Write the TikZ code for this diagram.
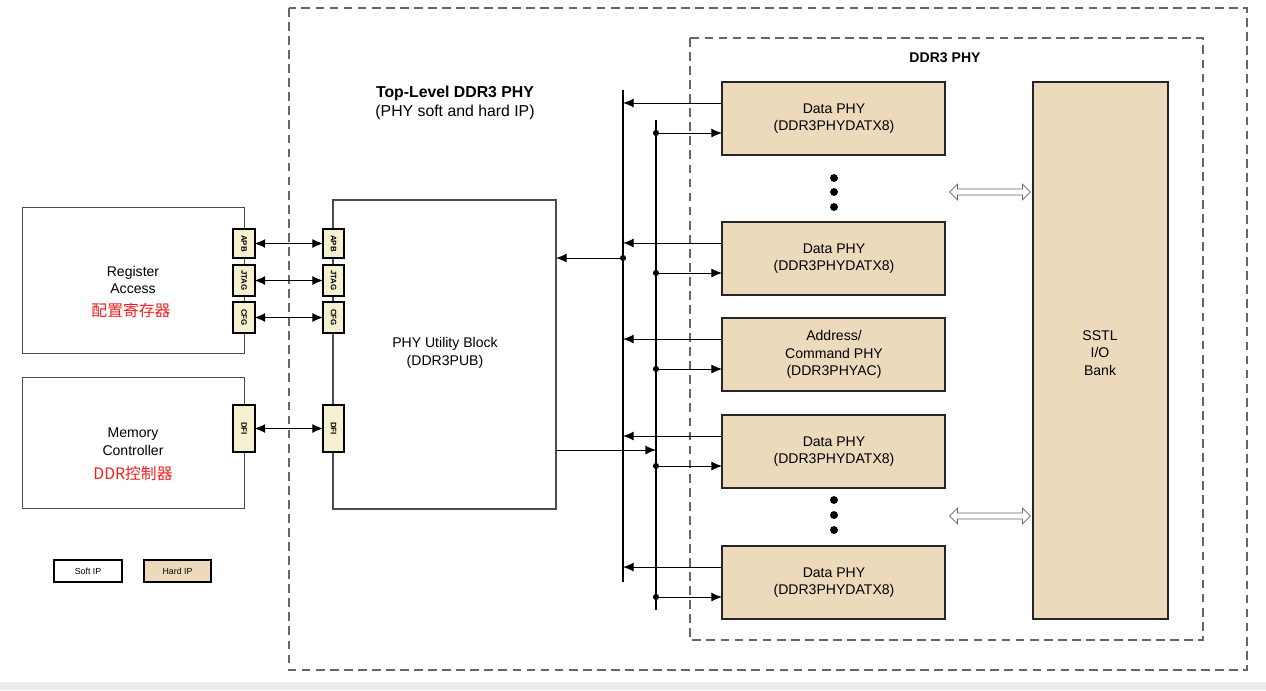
\documentclass[tikz,border=0pt]{standalone}
\usepackage{fontspec}
\setmainfont{Liberation Sans}
\newfontfamily\cjk{Noto Sans CJK SC}
\usetikzlibrary{shapes.arrows,arrows.meta}
\definecolor{hard}{HTML}{EDD9BC}
\definecolor{port}{HTML}{F5F0CF}
\definecolor{cn}{HTML}{F02020}
\begin{document}
\begin{tikzpicture}[x=0.02cm,y=-0.02cm,
  txt/.style={font=\fontsize{7.5}{9}\selectfont,align=center},
  soft/.style={draw=black!70,line width=0.5pt,fill=white},
  hardb/.style={draw=black!85,line width=0.9pt,fill=hard},
  portb/.style={draw=black,line width=0.6pt,fill=port},
  ptxt/.style={font=\fontsize{4.5}{5}\selectfont\bfseries,rotate=-90},
  dsh/.style={draw=black!60,dash pattern=on 5pt off 3pt,line width=0.6pt},
  bus/.style={line width=1.5pt},
  arr/.style={-{Latex[length=6pt,width=5pt]},line width=0.5pt},
  barr/.style={{Latex[length=6pt,width=5pt]}-{Latex[length=6pt,width=5pt]},line width=0.5pt},
  dot/.style={circle,fill=black,inner sep=0pt,minimum size=3.5pt}]
\useasboundingbox (0,0) rectangle (1266,690);
\fill[black!8] (0,682) rectangle (1266,690);
\draw[dsh] (289,8) rectangle (1247,670);
\draw[dsh] (690,38) rectangle (1203,640);
\node[font=\fontsize{8}{9}\selectfont\bfseries] (dtitle) at (945,58) {DDR3 PHY};
\node[font=\fontsize{9}{11}\selectfont,align=center] (ttl) at (455,103) {\textbf{Top-Level DDR3 PHY}\\(PHY soft and hard IP)};
% left boxes
\draw[soft] (22,207) rectangle (244,353);
\node[txt,font=\fontsize{8}{10}\selectfont] (ra) at (133,280) {Register\\Access};
\node[font=\fontsize{9}{10}\selectfont\cjk,text=cn] (racn) at (131,310) {配置寄存器};
\draw[soft] (22,377) rectangle (244,508);
\node[txt,font=\fontsize{8}{10}\selectfont] (mc) at (133,442) {Memory\\Controller};
\node[font=\fontsize{9}{10}\selectfont\cjk,text=cn] (mccn) at (133,473) {DDR控制器};
% PUB
\draw[soft,line width=0.8pt] (333,200) rectangle (556,509);
\node[txt,font=\fontsize{8}{10}\selectfont] (pub) at (445,353) {PHY Utility Block\\(DDR3PUB)};
% ports
\foreach \n/\t/\a/\b in {apb/APB/229/258, jtag/JTAG/265/296, cfg/CFG/302/333, dfi/DFI/405/452}{
  \draw[portb] (233,\a) rectangle (255,\b);
  \node[ptxt] (l\n) at (244,{(\a+\b)/2}) {\t};
  \draw[portb] (323,\a) rectangle (344,\b);
  \node[ptxt] (r\n) at (333.5,{(\a+\b)/2}) {\t};
}
\foreach \n in {apb,jtag,cfg,dfi}{
  \draw[barr] ([xshift=6pt]l\n.center) -- ([xshift=-6pt]r\n.center);
}
% buses
\coordinate (b1t) at (623,90); \coordinate (b1b) at (623,582);
\coordinate (b2t) at (656,120); \coordinate (b2b) at (656,610);
\draw[bus] (b1t) -- (b1b);
\draw[bus] (b2t) -- (b2b);
% blocks
\foreach \n/\t/\y in {d1/{Data PHY\\(DDR3PHYDATX8)}/82, d2/{Data PHY\\(DDR3PHYDATX8)}/222, ac/{Address/\\Command PHY\\(DDR3PHYAC)}/318, d4/{Data PHY\\(DDR3PHYDATX8)}/415, d5/{Data PHY\\(DDR3PHYDATX8)}/546}{
  \draw[hardb] (722,\y) rectangle (945,\y+73);
  \node[txt,font=\fontsize{8}{10}\selectfont] (\n) at (834,\y+36.5) {\t};
  \coordinate (\n i) at (722,\y+21);
  \coordinate (\n o) at (722,\y+51);
  \draw[arr] (\n i) -- (623,\y+21);
  \node[dot] (\n d) at (656,\y+51) {};
  \draw[arr] (\n d) -- (\n o);
}
\node[dot] (b1d) at (623,258) {};
\coordinate (pubr) at (556,258);
\draw[arr] (b1d) -- (pubr);
\coordinate (pubo) at (556,450);
\coordinate (b2in) at (656,450);
\draw[arr] (pubo) -- (b2in);
% dots
\foreach \y in {178,192,207,500,515,530} \node[dot,minimum size=4.5pt] at (834,\y) {};
% SSTL
\draw[hardb] (1033,82) rectangle (1168,619);
\node[txt,font=\fontsize{8}{10}\selectfont] (sstl) at (1100,353) {SSTL\\I/O\\Bank};
\foreach \y in {192,516}
  \node[double arrow,draw=black!60,fill=white,minimum width=9pt,double arrow head extend=2pt,minimum height=46,inner sep=1pt] at (990,\y) {};
% legend
\draw[black,line width=1pt,fill=white] (54,560) rectangle (122,582);
\node[font=\fontsize{5}{6}\selectfont] (ls) at (88,571) {Soft IP};
\draw[black,line width=1pt,fill=hard] (144,560) rectangle (211,582);
\node[font=\fontsize{5}{6}\selectfont] (lh) at (177.5,571) {Hard IP};
\end{tikzpicture}
\end{document}
